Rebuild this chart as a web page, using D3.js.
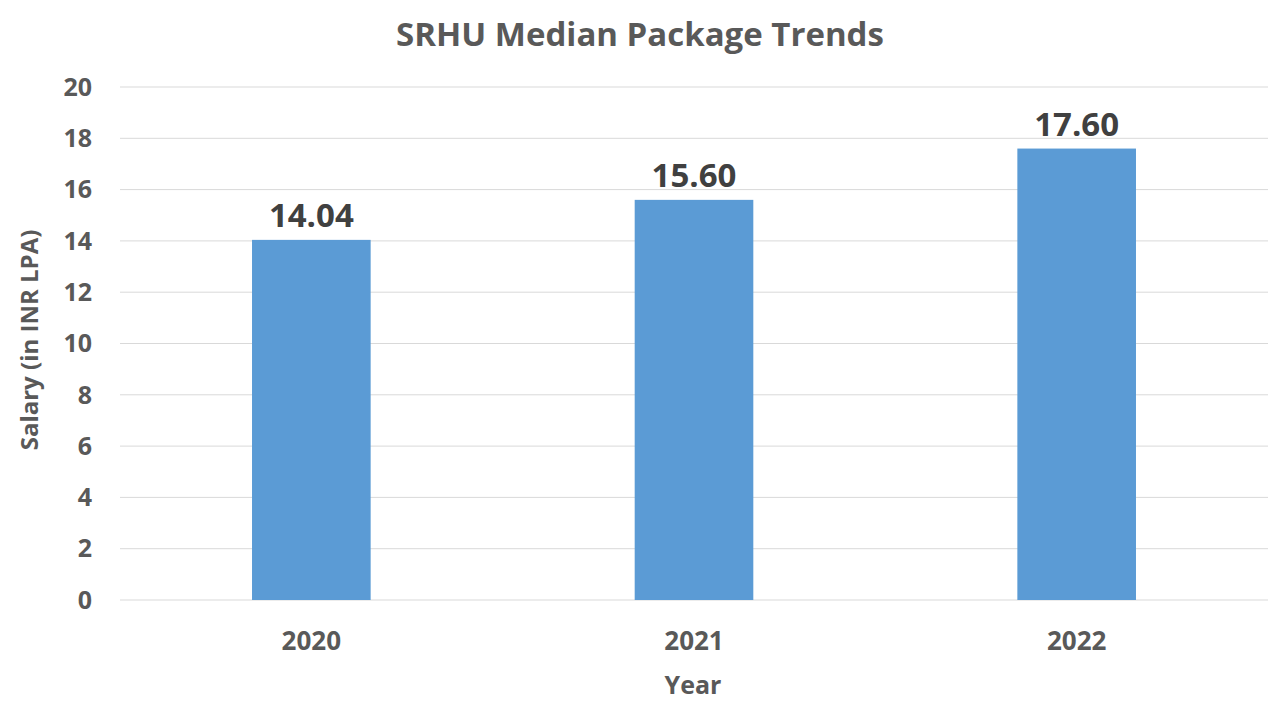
<!DOCTYPE html>
<html><head><meta charset="utf-8">
<script src="https://cdn.jsdelivr.net/npm/d3@7"></script>
<style>body{margin:0;background:#fff}text{font-family:"Open Sans",sans-serif;font-weight:bold}</style>
</head><body><svg id="c" width="1280" height="720"></svg>
<script>
const categories=["2020","2021","2022"];
const values=[14.04,15.60,17.60];
const yTicks=[0,2,4,6,8,10,12,14,16,18,20];
const svg=d3.select("#c");
const x=d3.scaleBand().domain(categories).range([120,1268]).paddingInner(0.69).paddingOuter(0.345);
const y=d3.scaleLinear().domain([0,20]).range([600,87]);
svg.append("g").selectAll("line").data(yTicks).join("line")
 .attr("x1",120).attr("x2",1268).attr("y1",d=>y(d)).attr("y2",d=>y(d))
 .attr("stroke","#d9d9d9").attr("stroke-width",1);
svg.append("g").selectAll("text").data(yTicks).join("text")
 .attr("x",92).attr("y",d=>y(d)).attr("dy","0.35em").attr("text-anchor","end")
 .attr("font-size",25).attr("fill","#595959").text(d=>d);
svg.append("g").selectAll("rect").data(values).join("rect")
 .attr("x",(d,i)=>x(categories[i])).attr("width",x.bandwidth())
 .attr("y",d=>y(d)).attr("height",d=>y(0)-y(d)).attr("fill","#5B9BD5");
svg.append("g").selectAll("text").data(values).join("text")
 .attr("x",(d,i)=>x(categories[i])+x.bandwidth()/2).attr("y",d=>y(d)-13)
 .attr("text-anchor","middle").attr("font-size",33).attr("fill","#404040").text(d=>d.toFixed(2));
svg.append("g").selectAll("text").data(categories).join("text")
 .attr("x",d=>x(d)+x.bandwidth()/2).attr("y",650).attr("text-anchor","middle")
 .attr("font-size",26).attr("fill","#595959").text(d=>d);
svg.append("text").attr("x",640).attr("y",46).attr("text-anchor","middle")
 .attr("font-size",33).attr("fill","#595959").text("SRHU Median Package Trends");
svg.append("text").attr("x",693).attr("y",694).attr("text-anchor","middle")
 .attr("font-size",25).attr("fill","#595959").text("Year");
svg.append("text").attr("transform","translate(38,340) rotate(-90)").attr("text-anchor","middle")
 .attr("font-size",24).attr("fill","#595959").text("Salary (in INR LPA)");
</script></body></html>
